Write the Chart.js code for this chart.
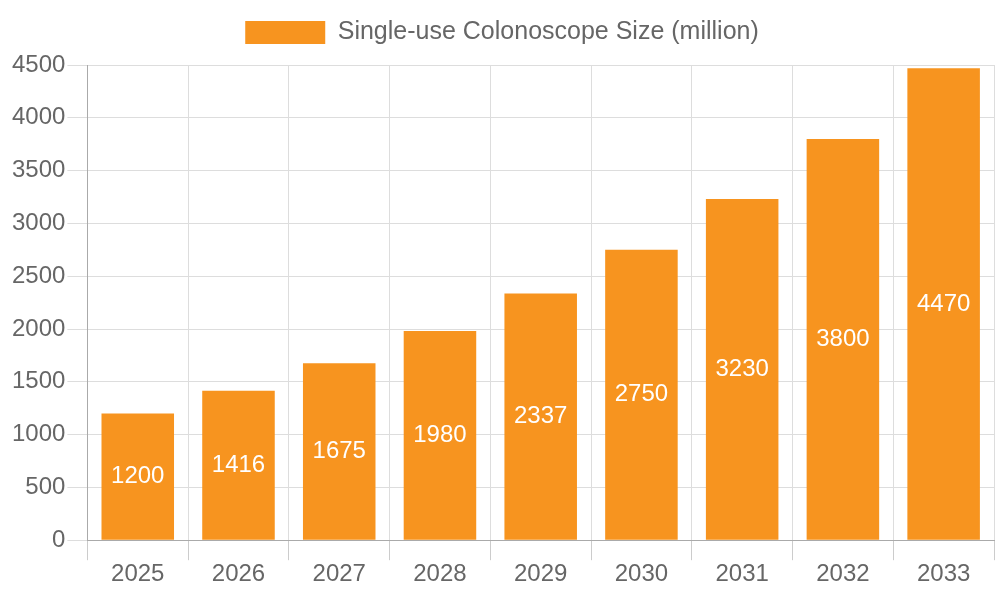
<!DOCTYPE html>
<html>
<head>
<meta charset="utf-8">
<script src="https://cdn.jsdelivr.net/npm/chart.js@4"></script>
<style>
  html, body { margin: 0; padding: 0; background: #fff; }
  #wrap { width: 1000px; height: 600px; }
</style>
</head>
<body>
<div id="wrap"><canvas id="chart"></canvas></div>
<script>
const years = ['2025', '2026', '2027', '2028', '2029', '2030', '2031', '2032', '2033'];
const sizes = [1200, 1416, 1675, 1980, 2337, 2750, 3230, 3800, 4470];
const seriesName = 'Single-use Colonoscope Size (million)';

// white value labels in the middle of each bar
const barLabels = {
  id: 'barLabels',
  afterDatasetsDraw(chart) {
    const ctx = chart.ctx;
    const meta = chart.getDatasetMeta(0);
    ctx.save();
    ctx.fillStyle = '#fff';
    ctx.font = '24px "Liberation Sans", Arial, sans-serif';
    ctx.textAlign = 'center';
    ctx.textBaseline = 'middle';
    meta.data.forEach((bar, i) => {
      const mid = (bar.y + bar.base) / 2;
      ctx.fillText(String(sizes[i]), bar.x, mid);
    });
    ctx.restore();
  }
};

// a bit more room under the legend
const legendGap = {
  id: 'legendGap',
  afterInit(chart) {
    const fit = chart.legend.fit;
    chart.legend.fit = function () {
      fit.call(this);
      this.height += 10;
    };
  }
};

Chart.defaults.font.family = '"Liberation Sans", Arial, sans-serif';
Chart.defaults.font.size = 24;
Chart.defaults.color = '#666';

new Chart(document.getElementById('chart'), {
  type: 'bar',
  data: {
    labels: years,
    datasets: [{
      label: seriesName,
      data: sizes,
      backgroundColor: '#F7941F'
    }]
  },
  options: {
    responsive: true,
    maintainAspectRatio: false,
    animation: false,
    layout: { padding: { top: 0, left: 10, right: 6, bottom: 11 } },
    plugins: {
      legend: {
        labels: { boxWidth: 80, boxHeight: 23, padding: 20, font: { size: 25 } }
      },
      tooltip: { enabled: false }
    },
    scales: {
      x: {
        grid: { color: '#ddd', tickLength: 20, tickColor: '#ccc' },
        border: { color: '#aaa' },
        ticks: { padding: 0 }
      },
      y: {
        min: 0,
        max: 4500,
        ticks: { stepSize: 500, padding: 2, callback: v => String(v) },
        grid: { color: '#ddd', tickLength: 20 },
        border: { color: '#aaa' }
      }
    }
  },
  plugins: [barLabels, legendGap]
});
</script>
</body>
</html>
